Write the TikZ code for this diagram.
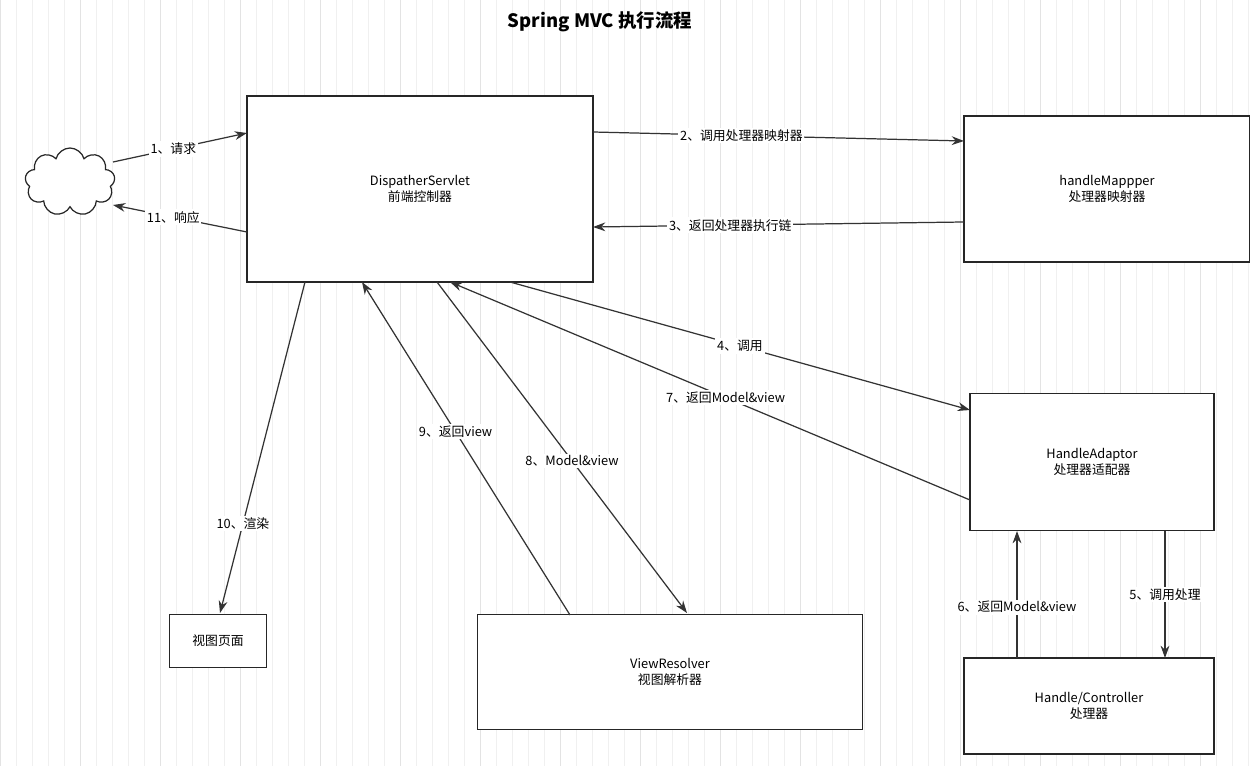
\documentclass[tikz,border=0pt]{standalone}
\usepackage{fontspec}
\setmainfont{Noto Sans CJK SC}
\usetikzlibrary{shapes.symbols,arrows.meta}
\begin{document}
\begin{tikzpicture}[x=0.02cm,y=-0.02cm,
  box/.style={draw=black!85,line width=0.7pt,fill=white,align=center,font=\fontsize{7.3}{9}\selectfont,inner sep=0pt},
  arr/.style={draw=black!80,line width=0.7pt,-{Stealth[length=7pt,width=5pt]}},
  lab/.style={fill=white,font=\fontsize{7.3}{9}\selectfont,inner sep=1pt}]
\useasboundingbox (0,0) rectangle (1250,766);
\fill[white] (0,0) rectangle (1250,766);
\draw[black!6,line width=0.4pt,step=16] (0,0) grid (1250,766);
\draw[black!11,line width=0.5pt,step=80] (0,0) grid (1250,766);
\node[font=\bfseries\fontsize{10.5}{12}\selectfont] (title) at (600,22) {Spring MVC 执行流程};
\node[box,minimum width=346*0.02cm,minimum height=186*0.02cm] (ds) at (420,189) {DispatherServlet\\前端控制器};
\node[box,minimum width=286*0.02cm,minimum height=146*0.02cm] (hm) at (1107,189) {handleMappper\\处理器映射器};
\node[box,minimum width=244*0.02cm,minimum height=137*0.02cm] (ha) at (1092,462) {HandleAdaptor\\处理器适配器};
\node[box,minimum width=250*0.02cm,minimum height=96*0.02cm] (hc) at (1089,706) {Handle/Controller\\处理器};
\node[box,minimum width=385*0.02cm,minimum height=115*0.02cm] (vr) at (670,672) {ViewResolver\\视图解析器};
\node[box,minimum width=97*0.02cm,minimum height=53*0.02cm] (vp) at (218,641) {视图页面};
\node[cloud,draw=black!85,line width=0.7pt,fill=white,cloud puffs=9,aspect=1.3,minimum width=1.8cm,minimum height=1.36cm,inner sep=0pt] (cl) at (70,182) {};
\coordinate (c1) at (113,162); \coordinate (c11) at (113,205);
\draw[arr] (c1) -- node[lab,pos=0.45]{1、请求} (247,133);
\draw[arr] (247,232) -- node[lab,pos=0.55]{11、响应} (c11);
\draw[arr] (593,132) -- node[lab,pos=0.4]{2、调用处理器映射器} (964,141);
\draw[arr] (964,222) -- node[lab,pos=0.63]{3、返回处理器执行链} (593,227);
\draw[arr] (510,282) -- node[lab,pos=0.5]{4、调用} (970,410);
\draw[arr] (970,500) -- node[lab,pos=0.47]{7、返回Model\&view} (450,282);
\draw[arr] (437,282) -- node[lab,pos=0.54]{8、Model\&view} (687,613);
\draw[arr] (570,615) -- node[lab,pos=0.55]{9、返回view} (362,282);
\draw[arr] (305,282) -- node[lab,pos=0.73]{10、渲染} (220,613);
\draw[arr] (1165,531) -- node[lab,pos=0.5]{5、调用处理} (1165,658);
\draw[arr] (1017,658) -- node[lab,pos=0.4]{6、返回Model\&view} (1017,531);
\end{tikzpicture}
\end{document}
